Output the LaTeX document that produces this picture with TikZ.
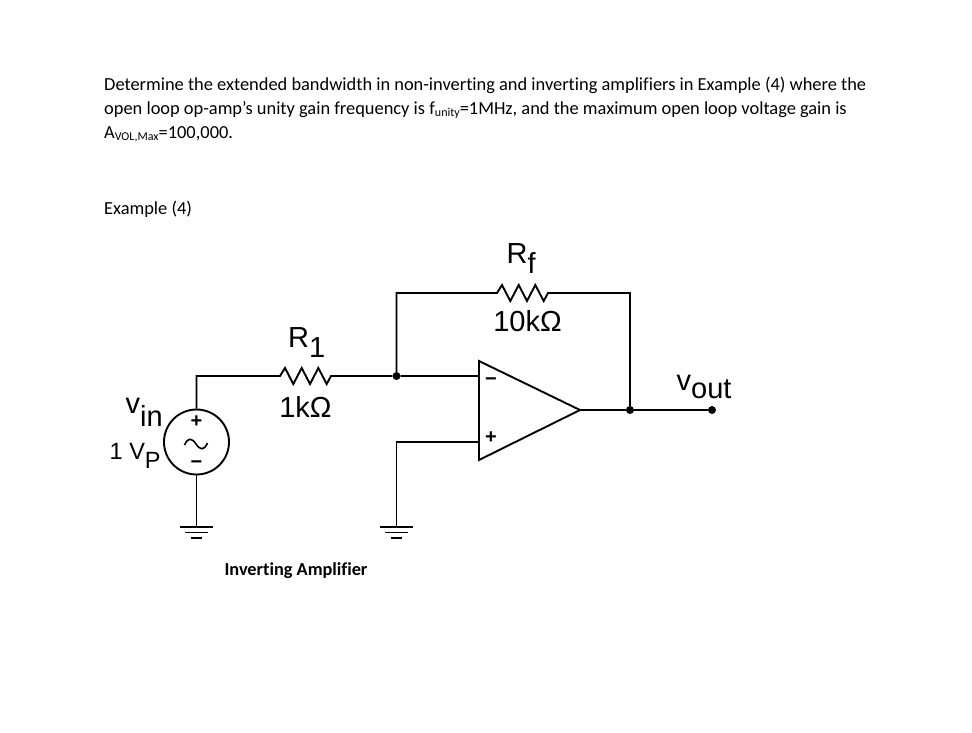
\documentclass[tikz,border=0pt]{standalone}
\usepackage{fontspec}
\setmainfont{Carlito}[Ligatures=NoCommon]
\newfontfamily\arialfont{Liberation Sans}
\usepackage{tikz}

\tikzset{
    wire/.style={line width=1.9pt,line join=miter},
    dot/.style={circle,fill=black,inner sep=0pt,minimum size=8pt},
    zigzag/.style={to path={-- ++(5,-8) -- ++(8.3,16) -- ++(8.4,-16) -- ++(8.3,16)
        -- ++(8.3,-16) -- ++(8.4,16) -- (\tikztotarget)}},
    para/.style={anchor=base west,inner sep=0pt,font=\fontsize{18.4}{20}\selectfont},
    part/.style={anchor=base west,inner sep=0pt,font=\arialfont\fontsize{29}{32}\selectfont},
    polarity/.style={inner sep=0pt,font=\arialfont\bfseries\fontsize{20}{22}\selectfont},
}
\newcommand{\smallsub}[1]{\raisebox{-2pt}{\fontsize{12}{14}\selectfont #1}}

\begin{document}
\begin{tikzpicture}[x=1pt,y=-1pt]
    %
    % page frame
    \useasboundingbox (0,0) rectangle (972,732);
    %
    % Independent parameters
    \def\topY{293}      % feedback rail
    \def\invY{376}      % inverting input rail
    \def\plusY{442}     % non-inverting input rail
    \def\outY{410}      % output rail
    \def\gndY{527}      % ground bars
    %
    % write text
    \node[para] (line1) at (104,90.5)
        {Determine the extended bandwidth in non-inverting and inverting amplifiers in Example (4) where the};
    \node[para] (line2) at (104,114.5)
        {open loop op-amp’s unity gain frequency is f\smallsub{unity}=1MHz, and the maximum open loop voltage gain is};
    \node[para] (line3) at (104,138.5) {A\smallsub{VOL,Max}=100,000.};
    \node[para] (example) at (104,214) {Example (4)};
    \node[para,anchor=base,font=\bfseries\fontsize{18.3}{20}\selectfont] (caption) at (296,575) {Inverting Amplifier};
    %
    % parts
    \node[circle,draw,wire,inner sep=0pt,minimum size=65pt] (vs) at (196.5,442) {};
    \coordinate (opTop) at (479,361);
    \coordinate (opBot) at (479,460);
    \coordinate (opTip) at (580,\outY);
    \draw[wire] (opTop) -- (opTip) -- (opBot) -- cycle;
    %
    % named points
    \coordinate (vsTurn) at (196.5,\invY);
    \coordinate (r1a) at (280,\invY);
    \coordinate (r1b) at (331,\invY);
    \node[dot] (nodeA) at (396.5,\invY) {};
    \coordinate (opMinus) at (479,\invY);
    \coordinate (fbLeft) at (396.5,\topY);
    \coordinate (rfa) at (497,\topY);
    \coordinate (rfb) at (548,\topY);
    \coordinate (fbRight) at (630,\topY);
    \node[dot] (nodeB) at (630,\outY) {};
    \node[dot] (nodeOut) at (712,\outY) {};
    \coordinate (opPlus) at (479,\plusY);
    \coordinate (plusTurn) at (396.5,\plusY);
    \coordinate (gndL) at (196.5,\gndY);
    \coordinate (gndR) at (396.5,\gndY);
    %
    % wires
    \draw[wire] (vs.north) -- (vsTurn) -- (r1a) to[zigzag] (r1b) -- (nodeA) -- (opMinus);
    \draw[wire] (nodeA) -- (fbLeft) -- (rfa) to[zigzag] (rfb) -- (fbRight) -- (nodeB);
    \draw[wire] (opTip) -- (nodeB) -- (nodeOut);
    \draw[wire] (opPlus) -- (plusTurn) -- (gndR);
    \draw[wire] (vs.south) -- (gndL);
    %
    % ground bars
    \foreach \g in {gndL,gndR}
    {
        \draw[wire] ([xshift=-16.5pt]\g) -- ([xshift=16.5pt]\g);
        \draw[wire] ([xshift=-11.5pt,yshift=-5.5pt]\g) -- ([xshift=11.5pt,yshift=-5.5pt]\g);
        \draw[wire] ([xshift=-5.5pt,yshift=-11pt]\g) -- ([xshift=5.5pt,yshift=-11pt]\g);
    }
    %
    % source symbol
    \node[polarity] (vsPlus) at (196.5,421.5) {+};
    \node[polarity] (vsMinus) at (196.5,465) {−};
    \draw[line width=1.6pt] (184.5,445) .. controls (188,437) and (192,438) .. (196,444)
        .. controls (200,450) and (204,451) .. (207.5,443);
    %
    % op-amp inputs
    \node[polarity] (opMinusSign) at (491,382) {−};
    \node[polarity] (opPlusSign) at (491,438) {+};
    %
    % write labels
    \node[part] (labelRone) at (288,347.5) {R\raisebox{-10pt}{1}};
    \node[part,anchor=base] (labelRoneVal) at (305.5,417.5) {1kΩ};
    \node[part] (labelRf) at (506.5,263) {R\raisebox{-10pt}{f}};
    \node[part,anchor=base] (labelRfVal) at (527.5,331.5) {10kΩ};
    \node[part] (labelVin) at (125.5,426.5) {\raisebox{13pt}{v}in};
    \node[part,font=\arialfont\fontsize{23.5}{26}\selectfont] (labelVp) at (109.5,459) {1 V\raisebox{-9pt}{P}};
    \node[part] (labelVout) at (676.5,398) {\raisebox{8pt}{v}out};
\end{tikzpicture}
\end{document}
